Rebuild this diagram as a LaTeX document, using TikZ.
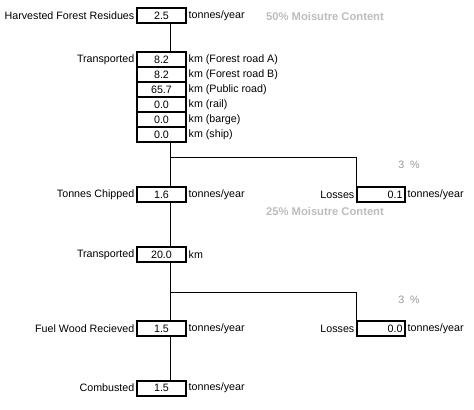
\documentclass[tikz,border=0pt]{standalone}
\usepackage{fontspec}
\setmainfont{Liberation Sans}
\newcommand{\cellfont}{\fontsize{10.7bp}{12bp}\selectfont}
\newcommand{\mcfont}{\fontsize{11.2bp}{12bp}\selectfont\bfseries}
\definecolor{pctgrey}{HTML}{999999}
\definecolor{mcgrey}{HTML}{BDBDBD}
\tikzstyle{sheet}=[%
	every node/.style={inner sep=1bp, font=\cellfont},
	every label/.style={inner sep=1.5bp, font=\cellfont}%
]
\tikzstyle{box}=[draw, line width=2bp, minimum width=49bp, minimum height=15bp]
\tikzstyle{lossbox}=[draw, line width=2bp, minimum width=48bp, minimum height=15bp, text width=43bp, align=right]
\tikzstyle{pct}=[text=pctgrey]
\tikzstyle{mc}=[text=mcgrey, font=\mcfont]

\begin{document}
\begin{tikzpicture}[x=1bp, y=-1bp, sheet]
	\draw[fill=white, draw=none] (0,0) rectangle (474,409);
	\coordinate (spine) at (170,0);

	\node[box, label={left:Harvested Forest Residues}, label={right:tonnes/year}] (harv) at (161.5,15.5) {2.5};
	\node[mc] (mc50) at (325,16) {50\% Moisutre Content};

	\node[box, label={left:Transported}, label={right:km (Forest road A)}] (tr1) at (161.5,59.5) {8.2};
	\node[box, label={right:km (Forest road B)}] (tr2) at (161.5,74.5) {8.2};
	\node[box, label={right:km (Public road)}] (tr3) at (161.5,89.5) {65.7};
	\node[box, label={right:km (rail)}] (tr4) at (161.5,104.5) {0.0};
	\node[box, label={right:km (barge)}] (tr5) at (161.5,119.5) {0.0};
	\node[box, label={right:km (ship)}] (tr6) at (161.5,134.5) {0.0};

	\coordinate (br1) at (170,157);
	\node[pct] (pct1) at (409,165) {3\hspace{6bp}\%};
	\node[box, label={left:Tonnes Chipped}, label={right:tonnes/year}] (chip) at (161.5,194.5) {1.6};
	\node[lossbox, label={left:Losses}, label={right:tonnes/year}] (loss1) at (381,194.5) {0.1};
	\node[mc] (mc25) at (325,211) {25\% Moisutre Content};

	\node[box, label={left:Transported}, label={right:km}] (tr7) at (161.5,254.5) {20.0};

	\coordinate (br2) at (170,292);
	\node[pct] (pct2) at (409,300) {3\hspace{6bp}\%};
	\node[box, label={left:Fuel Wood Recieved}, label={right:tonnes/year}] (fuel) at (161.5,328.5) {1.5};
	\node[lossbox, label={left:Losses}, label={right:tonnes/year}] (loss2) at (381,328.5) {0.0};

	\node[box, label={left:Combusted}, label={right:tonnes/year}] (comb) at (161.5,388) {1.5};

	\draw[line width=1bp] (harv.south -| spine) -- (tr1.north -| spine);
	\draw[line width=1bp] (tr6.south -| spine) -- (chip.north -| spine);
	\draw[line width=1bp] (br1) -| (loss1.north west);
	\draw[line width=1bp] (chip.south -| spine) -- (tr7.north -| spine);
	\draw[line width=1bp] (tr7.south -| spine) -- (fuel.north -| spine);
	\draw[line width=1bp] (br2) -| (loss2.north west);
	\draw[line width=1bp] (fuel.south -| spine) -- (comb.north -| spine);
\end{tikzpicture}
\end{document}
